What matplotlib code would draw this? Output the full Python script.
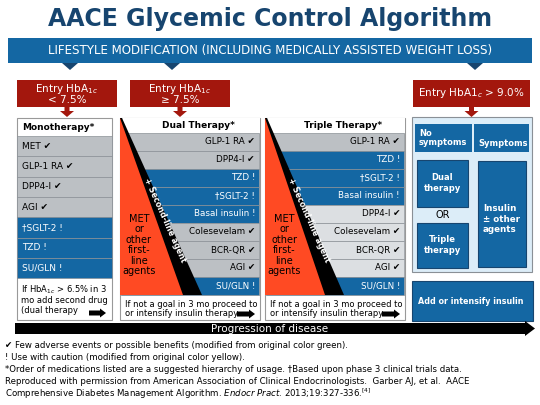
import matplotlib.pyplot as plt
from matplotlib.patches import Rectangle, Polygon, FancyArrow

BLUE = '#1467a3'
GRAY = '#bcc0c4'
LGRAY = '#dcdfe2'
RED = '#ff4a23'
DRED = '#a3170d'
NAVY = '#17456f'

mono_drugs = ['MET', 'GLP-1 RA', 'DPP4-I', 'AGI', '\u2020SGLT-2', 'TZD', 'SU/GLN']
mono_marks = ['\u2714', '\u2714', '\u2714', '\u2714', '!', '!', '!']
mono_kind = ['g', 'g', 'g', 'g', 'b', 'b', 'b']

dual_drugs = ['GLP-1 RA', 'DPP4-I', 'TZD', '\u2020SGLT-2', 'Basal insulin', 'Colesevelam', 'BCR-QR', 'AGI', 'SU/GLN']
dual_marks = ['\u2714', '\u2714', '!', '!', '!', '\u2714', '\u2714', '\u2714', '!']
dual_kind = ['g', 'g', 'b', 'b', 'b', 'g', 'g', 'g', 'b']

triple_drugs = ['GLP-1 RA', 'TZD', '\u2020SGLT-2', 'Basal insulin', 'DPP4-I', 'Colesevelam', 'BCR-QR', 'AGI', 'SU/GLN']
triple_marks = ['\u2714', '!', '!', '!', '\u2714', '\u2714', '\u2714', '\u2714', '!']
triple_kind = ['g', 'b', 'b', 'b', 'l', 'l', 'l', 'l', 'b']

fill = {'g': GRAY, 'b': BLUE, 'l': LGRAY}
tcol = {'g': 'black', 'b': 'white', 'l': 'black'}

fig = plt.figure(figsize=(5.4, 4.05), dpi=100)
ax = fig.add_axes([0, 0, 1, 1])
ax.set_xlim(0, 540)
ax.set_ylim(405, 0)
ax.axis('off')


def rect(x, y, w, h, fc, ec='none', lw=0.8, z=1):
    ax.add_patch(Rectangle((x, y), w, h, fc=fc, ec=ec, lw=lw, zorder=z))


def down_arrow(x, y0, y1, c):
    ax.add_patch(FancyArrow(x, y0, 0, y1 - y0, width=5, head_width=14, head_length=6,
                            length_includes_head=True, fc=c, ec='none', zorder=2))


# title & lifestyle band
ax.text(270, 19, 'AACE Glycemic Control Algorithm', ha='center', va='center',
        fontsize=17, fontweight='bold', color=NAVY)
rect(8, 38, 524, 25, BLUE)
ax.text(270, 50.5, 'LIFESTYLE MODIFICATION (INCLUDING MEDICALLY ASSISTED WEIGHT LOSS)',
        ha='center', va='center', fontsize=8.6, color='white')
for xc in [70, 172, 475]:
    ax.add_patch(Polygon([(xc - 8, 63), (xc + 8, 63), (xc, 70)], fc=NAVY, ec='none'))

# entry boxes
for x, w, txt in [(17, 100, 'Entry HbA$_{1c}$\n< 7.5%'), (130, 100, 'Entry HbA$_{1c}$\n\u2265 7.5%'),
                  (413, 117, 'Entry HbA1$_c$ > 9.0%')]:
    rect(x, 80, w, 27, DRED)
    ax.text(x + w / 2, 93.5, txt, ha='center', va='center', fontsize=7.5, color='white', linespacing=0.95)
    down_arrow(x + w / 2, 106, 117, DRED)

# monotherapy
rect(17, 118, 95, 202, 'white', ec='#999999')
ax.text(22, 127, 'Monotherapy*', va='center', fontsize=6.5, fontweight='bold')
rh = 20.3
for i, (d, m, k) in enumerate(zip(mono_drugs, mono_marks, mono_kind)):
    y = 136 + i * rh
    rect(17, y, 95, rh, fill[k], ec='#8a9096', lw=0.5)
    ax.text(22, y + rh / 2, d + ' ' + m, va='center', fontsize=6.5, color=tcol[k])
ax.text(21, 299, 'If HbA$_{1c}$ > 6.5% in 3\nmo add second drug\n(dual therapy', va='center',
        fontsize=6, linespacing=1.1)
ax.add_patch(FancyArrow(89, 313, 17, 0, width=5, head_width=9, head_length=6,
                        length_includes_head=True, fc='black', ec='none', zorder=3))


def combo(x0, title, drugs, marks, kinds, x_red, x_blk):
    w = 140
    rect(x0, 118, w, 202, 'white', ec='#999999')
    ax.text(x0 + 78, 126, title, ha='center', va='center', fontsize=6.5, fontweight='bold')
    top, bot = 133, 295
    h = (bot - top) / len(drugs)
    for i, (d, m, k) in enumerate(zip(drugs, marks, kinds)):
        y = top + i * h
        rect(x0 + 1, y, w - 2, h, fill[k], ec='#8a9096', lw=0.5)
        ax.text(x0 + w - 5, y + h / 2, d + ' ' + m, ha='right', va='center', fontsize=6.3, color=tcol[k], zorder=5)
    ax.add_patch(Polygon([(x0, 118), (x0 + 2, 118), (x_blk, bot), (x0, bot)], fc='black', ec='none', zorder=3))
    ax.add_patch(Polygon([(x0, 118), (x0, bot), (x_red, bot)], fc=RED, ec='none', zorder=4))
    ax.add_patch(Polygon([(x0 + 2, 118), (x0 + w, 118), (x0 + w, top), (x0 + 2 + (x_blk - x0 - 2) * (top - 118) / (bot - 118), top)],
                         fc='white', ec='none', zorder=2))
    ax.text(x0 + 19, 245, 'MET\nor\nother\nfirst-\nline\nagents', ha='center', va='center',
            fontsize=7, color='black', linespacing=1.05, zorder=5)
    ax.text(x0 + 0.58 * ((x_red + x_blk) / 2 - x0) + 3, 220, '+ Second-line agent', ha='center', va='center',
            rotation=-66, fontsize=5.8, fontweight='bold', color='white', zorder=5)
    ax.text(x0 + 5, 309, 'If not a goal in 3 mo proceed to\nor intensify insulin therapy', va='center',
            fontsize=6, linespacing=1.1)
    ax.add_patch(FancyArrow(x0 + 117, 314, 18, 0, width=5, head_width=9, head_length=6,
                            length_includes_head=True, fc='black', ec='none', zorder=3))


combo(120, 'Dual Therapy*', dual_drugs, dual_marks, dual_kind, 183, 202)
combo(265, 'Triple Therapy*', triple_drugs, triple_marks, triple_kind, 325, 344)

# right panel
rect(412, 117, 120, 155, '#dcedf8', ec='#8a9096')
rect(415, 124, 57, 28, BLUE)
rect(474, 124, 55, 28, BLUE)
ax.text(419, 138, 'No\nsymptoms', va='center', fontsize=6, fontweight='bold', color='white', linespacing=1.1)
ax.text(478, 144, 'Symptoms', va='center', fontsize=6, fontweight='bold', color='white')
rect(417, 160, 51, 47, BLUE, ec=NAVY)
ax.text(442.5, 183, 'Dual\ntherapy', ha='center', va='center', fontsize=6, fontweight='bold', color='white')
ax.text(442.5, 215, 'OR', ha='center', va='center', fontsize=7)
rect(417, 223, 51, 45, BLUE, ec=NAVY)
ax.text(442.5, 245, 'Triple\ntherapy', ha='center', va='center', fontsize=6, fontweight='bold', color='white')
rect(478, 161, 48, 106, BLUE, ec=NAVY)
ax.text(483, 219, 'Insulin\n\u00b1 other\nagents', va='center', fontsize=6.3, fontweight='bold', color='white')
rect(412, 281, 121, 40, BLUE, ec=NAVY)
ax.text(418, 301, 'Add or intensify insulin', va='center', fontsize=5.8, fontweight='bold', color='white')

# progression
ax.add_patch(FancyArrow(15, 328.5, 520, 0, width=11, head_width=15, head_length=10,
                        length_includes_head=True, fc='black', ec='none', zorder=3))
ax.text(270, 329, 'Progression of disease', ha='center', va='center', fontsize=7.5, color='white', zorder=4)

notes = ['\u2714 Few adverse events or possible benefits (modified from original color green).',
         '! Use with caution (modified from original color yellow).',
         '*Order of medications listed are a suggested hierarchy of usage. \u2020Based upon phase 3 clinical trials data.',
         'Reproduced with permission from American Association of Clinical Endocrinologists.  Garber AJ, et al.  AACE',
         'Comprehensive Diabetes Management Algorithm. $\\it{Endocr\\ Pract}$. 2013;19:327-336.$^{[4]}$']
for i, n in enumerate(notes):
    ax.text(5, 345 + i * 12.3, n, va='center', fontsize=6.2)

fig.savefig('out.png', dpi=100)
